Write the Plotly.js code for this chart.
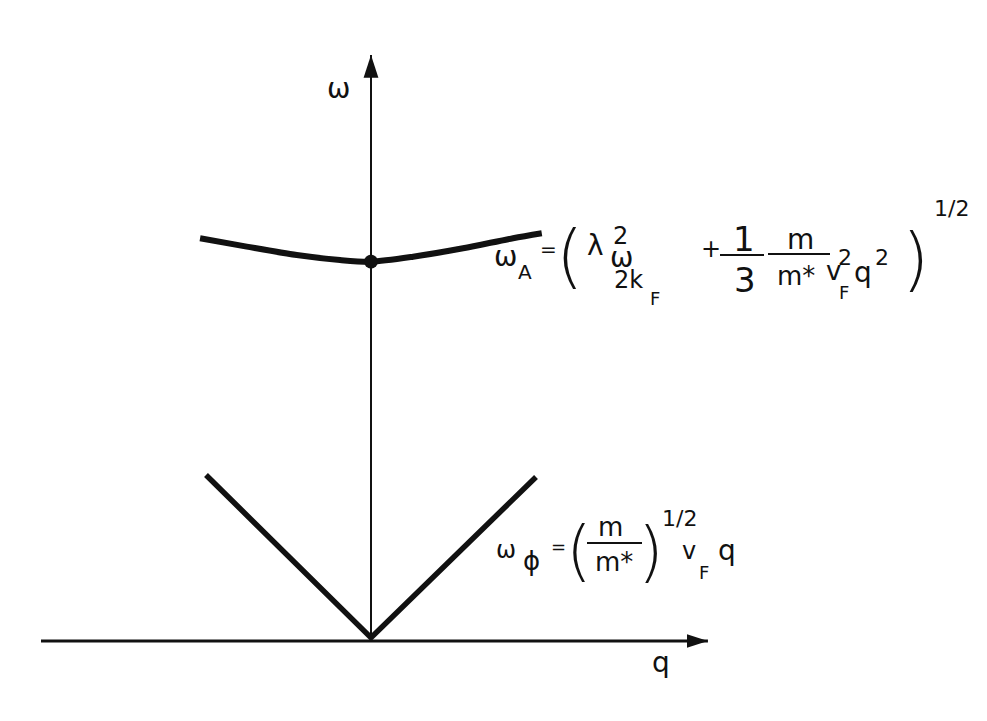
<!DOCTYPE html>
<html>
<head>
<meta charset="utf-8">
<script src="https://cdn.plot.ly/plotly-3.0.1.min.js"></script>
<style>html,body{margin:0;padding:0;background:#fff;}#chart{width:987px;height:721px;}</style>
</head>
<body>
<div id="chart"></div>
<script>
// ---- data (q in units, omega in units) ----
const acousticQ = [-1.036, -0.753, -0.450, -0.188, 0, 0.255, 0.558, 0.861, 1.035];
const acousticW = [2.441, 2.390, 2.339, 2.309, 2.299, 2.329, 2.380, 2.441, 2.471];
const phasonQ = [-1.0, 0, 1.0];
const phasonW = [1.006, 0.02, 0.994];
const gapQ = [0];
const gapW = [2.299];
const qAxisEnds = [-2.0, 2.042];
const wAxisEnds = [0, 3.552];

// pixel -> data helpers for text placement
const X = px => (px - 371) / 165;
const Y = py => (641 - py) / 165;

const FONT = 'DejaVu Sans, Liberation Sans, sans-serif';
const ink = '#111';

const traces = [
  {x: qAxisEnds, y: [0, 0], mode: 'lines', line: {color: ink, width: 3}, cliponaxis: false, hoverinfo: 'skip'},
  {x: [0, 0], y: wAxisEnds, mode: 'lines', line: {color: ink, width: 2}, cliponaxis: false, hoverinfo: 'skip'},
  {x: [qAxisEnds[1]], y: [0], mode: 'markers', marker: {symbol: 'arrow', angle: 90, size: 22, color: ink, line: {width: 0}}, cliponaxis: false},
  {x: [0], y: [wAxisEnds[1]], mode: 'markers', marker: {symbol: 'arrow', angle: 0, size: 24, color: ink, line: {width: 0}}, cliponaxis: false},
  {x: acousticQ, y: acousticW, mode: 'lines', line: {color: ink, width: 6, shape: 'spline', smoothing: 0.8}},
  {x: phasonQ, y: phasonW, mode: 'lines', line: {color: ink, width: 5.5}},
  {x: gapQ, y: gapW, mode: 'markers', marker: {color: ink, size: 14}}
];

const ann = [];
function T(px, py, text, size, extra) {
  ann.push(Object.assign({
    x: X(px), y: Y(py), xref: 'x', yref: 'y', text: text, showarrow: false,
    xanchor: 'center', yanchor: 'middle',
    font: {family: FONT, size: size, color: ink}
  }, extra || {}));
}
function P(px, py, text, size) { // thin parenthesis
  T(px, py, text, size, {font: {family: FONT, size: size, color: ink, weight: 200}});
}
const shapes = [];
function bar(x0, x1, py) {
  shapes.push({type: 'line', xref: 'x', yref: 'y', x0: X(x0), x1: X(x1), y0: Y(py), y1: Y(py), line: {color: ink, width: 2}});
}

// axis labels
T(338, 88, 'ω', 28);
T(661, 662, 'q', 28);

// omega_A formula
T(505, 256, 'ω', 28);
T(525, 272, 'A', 20);
T(548, 249, '=', 20);
P(569, 256, '(', 70);
T(595, 245, 'λ', 28);
T(621, 257, 'ω', 28);
T(620, 236, '2', 24);
T(628, 280, '2k', 24);
T(655, 298, 'F', 18);
T(711, 249, '+', 24);
T(744, 239, '1', 34);
bar(720, 764, 255);
T(745, 280, '3', 34);
T(800, 239, 'm', 28);
bar(768, 830, 254);
T(796, 276, 'm*', 26);
T(833, 271, 'v', 26);
T(845, 257, '2', 22);
T(844, 292, 'F', 18);
T(863, 272, 'q', 28);
T(882, 257, '2', 22);
P(915, 259, ')', 70);
T(951, 208, '1/2', 22);

// omega_phi formula
T(506, 550, 'ω', 24);
T(531, 561, 'ϕ', 26);
T(558, 546, '=', 18);
P(579, 550, '(', 66);
T(610, 527, 'm', 26);
bar(587, 642, 543);
T(614, 562, 'm*', 26);
P(651, 551, ')', 66);
T(679, 518, '1/2', 22);
T(689, 551, 'v', 24);
T(704, 572, 'F', 18);
T(727, 550, 'q', 28);

const layout = {
  width: 987, height: 721,
  margin: {l: 0, r: 0, t: 0, b: 0},
  paper_bgcolor: '#fff', plot_bgcolor: '#fff',
  showlegend: false,
  xaxis: {range: [X(0), X(987)], visible: false, fixedrange: true},
  yaxis: {range: [Y(721), Y(0)], visible: false, fixedrange: true},
  annotations: ann,
  shapes: shapes
};
Plotly.newPlot('chart', traces, layout, {displayModeBar: false, staticPlot: true});
</script>
</body>
</html>
